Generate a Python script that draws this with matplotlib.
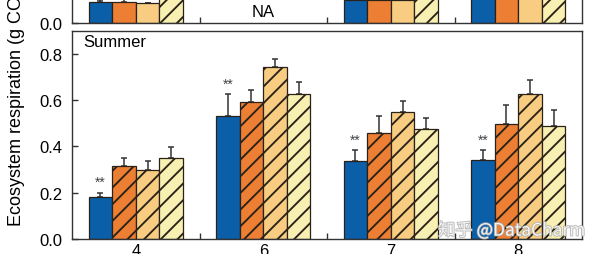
import numpy as np
import matplotlib
matplotlib.use("Agg")
import matplotlib.pyplot as plt
import matplotlib.patheffects as pe

plt.rcParams['font.family'] = ['Liberation Sans', 'DejaVu Sans']
plt.rcParams['hatch.linewidth'] = 1.35

months = ['4', '6', '7', '8']
treatments = ['control', 'warm1', 'warm2', 'warm3']
colors = ['#0b5ea8', '#ec7f33', '#f8cd82', '#f7f0b2']

# summer panel (g CO2 m-2 h-1)
summer_mean = [
    [0.18, 0.533, 0.338, 0.343],
    [0.315, 0.59, 0.46, 0.497],
    [0.297, 0.744, 0.55, 0.625],
    [0.35, 0.625, 0.475, 0.49],
]
summer_err = [
    [0.02, 0.093, 0.047, 0.042],
    [0.035, 0.054, 0.07, 0.081],
    [0.041, 0.034, 0.047, 0.063],
    [0.046, 0.055, 0.048, 0.066],
]
summer_sig = ['**', '**', '**', '**']

# panel above (only its bottom strip is visible), month 6 not measured
upper_mean = [
    [0.092, np.nan, 0.099, 0.16],
    [0.089, np.nan, 0.099, 0.17],
    [0.085, np.nan, 0.099, 0.17],
    [0.13, np.nan, 0.14, 0.15],
]
upper_err = [
    [0.007, 0, 0.01, 0.02],
    [0.015, 0, 0.01, 0.02],
    [0.003, 0, 0.01, 0.02],
    [0.02, 0, 0.02, 0.02],
]
summer_hatch = ['', '//', '//', '//']
upper_hatch = ['', '', '', '//']

ylabel = 'Ecosystem respiration (g CO$_2$ m$^{-2}$ h$^{-1}$)'

fig = plt.figure(figsize=(6, 2.55), dpi=100)
ax = fig.add_axes([0.12, 0.0588, 0.85, 0.817])
ax_top = fig.add_axes([0.12, 0.906, 0.85, 0.817])

x = np.arange(len(months))
w = 0.185
dark = '#2a2218'


def draw_bars(a, means, errs, hatches):
    for i in range(len(treatments)):
        pos = x + (i - 1.5) * w
        m = np.array(means[i])
        e = np.array(errs[i])
        a.bar(pos, m, w, color=colors[i], edgecolor=dark, linewidth=0.9,
              hatch=hatches[i], zorder=2)
        a.errorbar(pos, m, yerr=[np.zeros_like(e), e], fmt='none',
                   ecolor='#333333', elinewidth=1.1, capsize=2.3,
                   capthick=1.1, zorder=1)


draw_bars(ax, summer_mean, summer_err, summer_hatch)
draw_bars(ax_top, upper_mean, upper_err, upper_hatch)

# significance marks over the control bars
for j, s in enumerate(summer_sig):
    top = summer_mean[0][j] + summer_err[0][j]
    ax.annotate(s, xy=(x[j] - 1.5 * w, top), xytext=(0, 2.5),
                textcoords='offset points', ha='center', va='bottom',
                fontsize=10, color='#444444')

ax_top.text(1, 0.05, 'NA', ha='center', va='center', fontsize=12)
ax.text(0.022, 0.985, 'Summer', transform=ax.transAxes,
        ha='left', va='top', fontsize=12)

for a in (ax, ax_top):
    a.set_xlim(-0.5, 3.5)
    a.set_ylim(0, 0.9)
    a.set_yticks([0, 0.2, 0.4, 0.6, 0.8])
    a.set_yticklabels(['0.0', '0.2', '0.4', '0.6', '0.8'])
    a.set_xticks(x)
    a.set_xticks([0.5, 1.5, 2.5], minor=True)
    a.tick_params(axis='y', direction='in', length=4.5, width=1,
                  color='#333333', labelsize=12, pad=7)
    a.tick_params(axis='x', which='major', length=0, labelsize=12, pad=3)
    a.tick_params(axis='x', which='minor', direction='in', length=4,
                  width=1, color='#333333')
    for sp in a.spines.values():
        sp.set_color('#333333')
        sp.set_linewidth(1.0)

ax.set_xticklabels(months)
ax_top.set_xticklabels([])

fig.text(0.026, 0.11, ylabel, rotation=90, ha='center', va='bottom',
         fontsize=13)

# watermark
fig.text(0.73, 0.072, '知乎 @DataCharm', fontsize=12.5, color='white',
         alpha=0.85, family=['Noto Sans CJK SC', 'DejaVu Sans'],
         path_effects=[pe.withStroke(linewidth=1.2, foreground='#aaaaaa')])

fig.savefig('out.png', dpi=100)
